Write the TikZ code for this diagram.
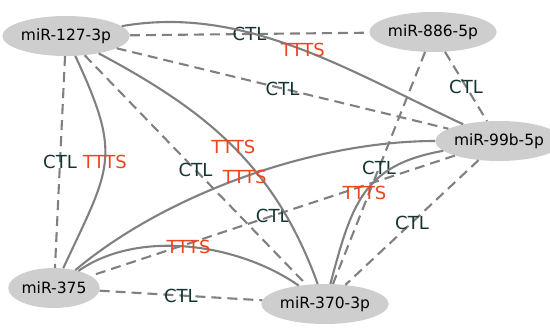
\documentclass[tikz,border=0pt]{standalone}
\usepackage{fontspec}
\setmainfont{DejaVu Sans}
\usetikzlibrary{shapes.geometric}
\definecolor{edgegray}{RGB}{128,128,128}
\definecolor{nodegray}{RGB}{206,206,206}
\definecolor{ctlcol}{RGB}{22,52,52}
\definecolor{tttscol}{RGB}{238,68,30}
\begin{document}
\begin{tikzpicture}[x=1pt,y=1pt,
  mirna/.style={ellipse, fill=nodegray, minimum width=90pt, minimum height=40pt, inner sep=0pt, font=\fontsize{15.5}{18}\selectfont},
  ctledge/.style={draw=edgegray, line width=2.1pt, dash pattern=on 10pt off 6pt},
  tttsedge/.style={draw=edgegray, line width=2.1pt},
  ctllab/.style={text=ctlcol, font=\fontsize{18}{21}\selectfont, inner sep=0pt},
  tttslab/.style={text=tttscol, font=\fontsize{18}{21}\selectfont, inner sep=0pt}]
\useasboundingbox (0,0) rectangle (550,-332);
\node[mirna] (n127) at (66,-36) {miR-127-3p};
\node[mirna] (n886) at (433,-32) {miR-886-5p};
\node[mirna] (n99b) at (499,-141) {miR-99b-5p};
\node[mirna] (n375) at (54,-288) {miR-375};
\node[mirna] (n370) at (325,-304) {miR-370-3p};
% CTL (dashed)
\draw[ctledge] (n127) -- node[ctllab]{CTL} (n886);
\draw[ctledge] (n127) -- node[ctllab]{CTL} (n99b);
\draw[ctledge] (n886) -- node[ctllab]{CTL} (n99b);
\draw[ctledge] (n127) -- node[ctllab]{CTL} (n375);
\draw[ctledge] (n127) -- node[ctllab]{CTL} (n370);
\draw[ctledge] (n886) -- node[ctllab]{CTL} (n370);
\draw[ctledge] (n99b) -- node[ctllab]{CTL} (n375);
\draw[ctledge] (n99b) -- node[ctllab]{CTL} (n370);
\draw[ctledge] (n375) -- node[ctllab]{CTL} (n370);
% TTTS (solid)
\draw[tttsedge] (n127) to[out=10,in=155,looseness=0.9] node[tttslab,pos=0.52]{TTTS} (n99b);
\draw[tttsedge] (n127) to[out=-65,in=65,looseness=1.35] node[tttslab]{TTTS} (n375);
\draw[tttsedge] (n127) to[out=-28,in=110] node[tttslab]{TTTS} (n370);
\draw[tttsedge] (n99b) to[out=180,in=40,looseness=0.8] node[tttslab]{TTTS} (n375);
\draw[tttsedge] (n99b) to[out=190,in=75,looseness=1.2] node[tttslab]{TTTS} (n370);
\draw[tttsedge] (n375) to[out=35,in=145,looseness=0.85] node[tttslab]{TTTS} (n370);
\end{tikzpicture}
\end{document}
